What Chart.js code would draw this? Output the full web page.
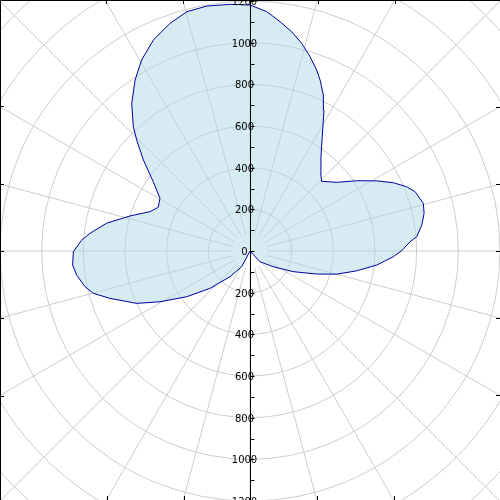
<!DOCTYPE html>
<html>
<head>
<meta charset="utf-8">
<script src="https://cdn.jsdelivr.net/npm/chart.js@4/dist/chart.umd.min.js"></script>
<style>
  body { margin: 0; background: #fff; }
  canvas { display: block; }
</style>
</head>
<body>
<canvas id="grafico" width="500" height="500"></canvas>
<script>
// curva polar: angulo (grados) y radio
const angulos = [-90, -47, -34, -25.5, -19, -14.9, -10.5, -6.3, -2.3, 0.1, 3.3, 4.9, 8.6, 12.2, 15.4, 19.8, 22.3, 25.5, 29, 33.4, 38.4, 44.2, 47.7, 53, 57.7, 62.3, 64.8, 67.7, 69.8, 72.8, 76, 79.2, 82.5, 86, 90, 94.6, 100, 104.8, 109.4, 114.6, 119.6, 123.9, 128.7, 133.2, 135.6, 139.5, 144.4, 149.6, 154.5, 158.5, 163.7, 169, 173.7, 176.3, 180.2, 184.5, 187.9, 192.2, 195.1, 198.7, 204.8, 209.4, 215.8, 223, 232, 242, 270];
const radios = [0, 70, 135, 230, 339, 431, 521, 612, 688, 728, 769, 803, 834, 855, 863, 842, 813, 762, 695, 613, 531, 480, 504, 566, 649, 764, 827, 887, 926, 976, 1027, 1071, 1110, 1152, 1181, 1188, 1194, 1188, 1158, 1114, 1054, 989, 908, 818, 761, 673, 571, 501, 488, 516, 600, 701, 773, 810, 848, 854, 840, 810, 779, 709, 599, 496, 375, 263, 156, 85, 0];

// rejilla
const circulos = [200, 400, 600, 800, 1000, 1200, 1400, 1600, 1800];
const lineasRadiales = [0, 15, 30, 45, 60, 75, 90, 105, 120, 135, 150, 165, 180, 195, 210, 225, 240, 255, 270, 285, 300, 315, 330, 345];
const marcasEje = [-1200, -1100, -1000, -900, -800, -700, -600, -500, -400, -300, -200, -100, 0, 100, 200, 300, 400, 500, 600, 700, 800, 900, 1000, 1100, 1200];
const etiquetasEje = [-1200, -1000, -800, -600, -400, -200, 0, 200, 400, 600, 800, 1000, 1200];

const puntos = angulos.map((a, i) => {
  const t = a * Math.PI / 180;
  return { x: radios[i] * Math.cos(t), y: radios[i] * Math.sin(t) };
});

const rejilla = {
  id: "rejilla",
  beforeDatasetsDraw(chart) {
    const { ctx, chartArea, scales: { x, y } } = chart;
    const cx = x.getPixelForValue(0);
    const cy = y.getPixelForValue(0);
    const escala = x.getPixelForValue(1000) - cx;
    ctx.save();
    ctx.strokeStyle = "#cccccc";
    ctx.lineWidth = 1;
    circulos.forEach(r => {
      ctx.beginPath();
      ctx.arc(cx, cy, r * escala / 1000, 0, Math.PI * 2);
      ctx.stroke();
    });
    lineasRadiales.forEach(a => {
      const t = a * Math.PI / 180;
      const r0 = 85 * escala / 1000, r1 = 2000 * escala / 1000;
      ctx.beginPath();
      ctx.moveTo(cx + r0 * Math.cos(t), cy - r0 * Math.sin(t));
      ctx.lineTo(cx + r1 * Math.cos(t), cy - r1 * Math.sin(t));
      ctx.stroke();
    });
    ctx.restore();
  },
  afterDatasetsDraw(chart) {
    const { ctx, chartArea, scales: { x, y } } = chart;
    const cx = Math.round(x.getPixelForValue(0)) + 0.5;
    const cy = y.getPixelForValue(0);
    ctx.save();
    ctx.strokeStyle = "#000";
    ctx.lineWidth = 1;
    // eje vertical central
    ctx.beginPath();
    ctx.moveTo(cx, chartArea.top);
    ctx.lineTo(cx, chartArea.bottom);
    ctx.stroke();
    marcasEje.forEach(v => {
      const py = Math.round(y.getPixelForValue(v)) + 0.5;
      ctx.beginPath();
      ctx.moveTo(cx, py);
      ctx.lineTo(cx + 4, py);
      ctx.stroke();
    });
    ctx.fillStyle = "#000";
    ctx.font = "10px 'DejaVu Sans'";
    ctx.textAlign = "center";
    ctx.textBaseline = "middle";
    etiquetasEje.forEach(v => {
      ctx.fillText(String(Math.abs(v)), cx - 6, y.getPixelForValue(v) + 1.5);
    });
    // marco y marcas en los bordes
    ctx.beginPath();
    ctx.rect(chartArea.left + 0.5, chartArea.top + 0.5, chartArea.width, chartArea.height);
    ctx.stroke();
    lineasRadiales.forEach(a => {
      if (a % 90 === 45 || a === 90 || a === 270) return;
      const t = a * Math.PI / 180;
      const dx = Math.cos(t), dy = -Math.sin(t);
      const tx = Math.abs(dx) < 1e-9 ? Infinity : (dx > 0 ? (chartArea.right - cx) / dx : (chartArea.left - cx) / dx);
      const ty = Math.abs(dy) < 1e-9 ? Infinity : (dy > 0 ? (chartArea.bottom - cy) / dy : (chartArea.top - cy) / dy);
      const k = Math.min(tx, ty);
      const px = cx + k * dx, py = cy + k * dy;
      ctx.beginPath();
      if (tx < ty) {
        ctx.moveTo(px, Math.round(py) + 0.5);
        ctx.lineTo(px - Math.sign(dx) * 4, Math.round(py) + 0.5);
      } else {
        ctx.moveTo(Math.round(px) + 0.5, py);
        ctx.lineTo(Math.round(px) + 0.5, py - Math.sign(dy) * 4);
      }
      ctx.stroke();
    });
    ctx.restore();
  }
};

new Chart(document.getElementById("grafico").getContext("2d"), {
  type: "scatter",
  data: {
    datasets: [{
      data: puntos,
      showLine: true,
      fill: "shape",
      backgroundColor: "rgba(173,216,230,0.5)",
      borderColor: "#0000a0",
      borderWidth: 1,
      pointRadius: 0,
      tension: 0
    }]
  },
  options: {
    responsive: false,
    animation: false,
    devicePixelRatio: 1,
    layout: { padding: 0 },
    plugins: { legend: { display: false }, tooltip: { enabled: false } },
    scales: {
      x: { type: "linear", min: -1200, max: 1200, display: false },
      y: { type: "linear", min: -1195, max: 1205, display: false }
    }
  },
  plugins: [rejilla]
});
</script>
</body>
</html>
